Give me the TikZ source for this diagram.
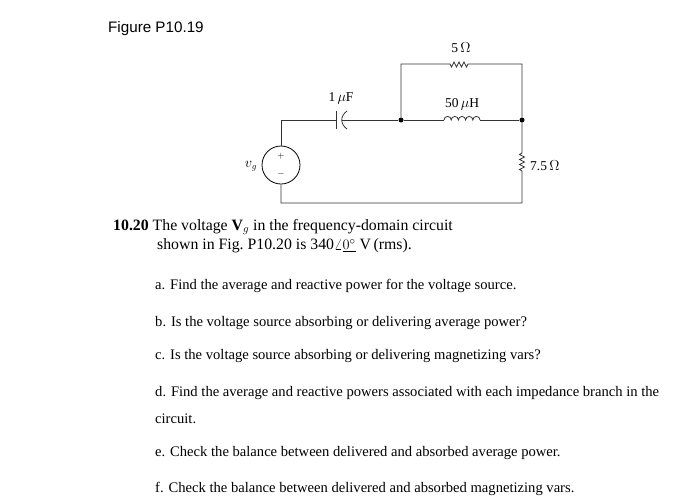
\documentclass[tikz,border=0pt]{standalone}
\usepackage{fontspec}
\setmainfont{Liberation Serif}
\newfontfamily\headfont{Liberation Sans}
\begin{document}
\begin{tikzpicture}[x=1pt,y=-1pt,
  wire/.style={line width=0.8pt,black!80},
  dotn/.style={circle,fill=black,inner sep=0pt,minimum size=5pt},
  txt/.style={anchor=west,inner sep=0pt,font=\fontsize{14.6}{16}\selectfont},
  ptxt/.style={anchor=west,inner sep=0pt,font=\fontsize{15.8}{17}\selectfont},
  lbl/.style={inner sep=1pt,font=\fontsize{13.5}{15}\selectfont}]
\fill[white] (0,0) rectangle (700,501);
\useasboundingbox (0,0) rectangle (700,501);
\node[anchor=west,inner sep=0pt,font=\headfont\fontsize{15.2}{17}\selectfont] (fig) at (108,29) {Figure P10.19};
\coordinate (tl) at (281,120);
\coordinate (bl) at (281,203);
\coordinate (br) at (522,203);
\node[dotn] (n1) at (401,120) {};
\node[dotn] (n2) at (522,120) {};
\coordinate (t1) at (401,64);
\coordinate (t2) at (522,64);
\node[circle,draw,line width=0.8pt,minimum size=38pt,inner sep=0pt] (src) at (281,165) {};
\node[font=\small] at (281,156) {$+$};
\node[font=\small] at (281,174) {$-$};
\node[lbl] (vg) at (251,166) {$v_g$};
\draw[wire] (src.north) -- (tl) -- (336,120);
\draw[wire] (336,111) -- (336,129);
\draw[wire] (347,111) .. controls (340,116) and (340,124) .. (347,129);
\draw[wire] (341.5,120) -- (n1);
\draw[wire] (n1) -- (444,120);
\draw[wire] (444,120) \foreach \i in {0,...,4} { arc[start angle=180,end angle=360,radius=3.6]};
\draw[wire] (480,120) -- (n2);
\draw[wire] (n1) -- (t1) -- (450,64)
  -- ++(1.5,3) -- ++(2.5,-5) -- ++(2.5,5) -- ++(2.5,-5) -- ++(2.5,5) -- ++(2.5,-5) -- ++(2.5,5) -- ++(1.5,-3)
  -- (t2) -- (n2);
\draw[wire] (n2) -- (522,153) -- ++(-2.5,1.5) -- ++(5,2.5) -- ++(-5,2.5) -- ++(5,2.5) -- ++(-5,2.5) -- ++(5,2.5) -- ++(-5,2.5) -- ++(2.5,1.5) -- (br) -- (bl) -- (src.south);
\node[lbl] (r5) at (461,48) {5\,$\Omega$};
\node[lbl] (l50) at (462,104) {50\,$\mu$H};
\node[lbl] (c1) at (341,98) {1\,$\mu$F};
\node[lbl,anchor=west] (r75) at (529,166) {7.5\,$\Omega$};
\node[ptxt] (p1) at (113,227) {\textbf{10.20} The voltage $\mathbf{V}_g$ in the frequency-domain circuit};
\node[ptxt] (p2) at (157,246) {shown in Fig.\ P10.20 is 340$\angle\underline{0^\circ}$ V\,(rms).};
\node[txt] (a) at (155,286) {a. Find the average and reactive power for the voltage source.};
\node[txt] (b) at (155,323) {b. Is the voltage source absorbing or delivering average power?};
\node[txt] (c) at (155,356) {c. Is the voltage source absorbing or delivering magnetizing vars?};
\node[txt] (d) at (155,393) {d. Find the average and reactive powers associated with each impedance branch in the};
\node[txt] (d2) at (155,419) {circuit.};
\node[txt] (e) at (155,453) {e. Check the balance between delivered and absorbed average power.};
\node[txt] (f) at (155,489) {f. Check the balance between delivered and absorbed magnetizing vars.};
\end{tikzpicture}
\end{document}
